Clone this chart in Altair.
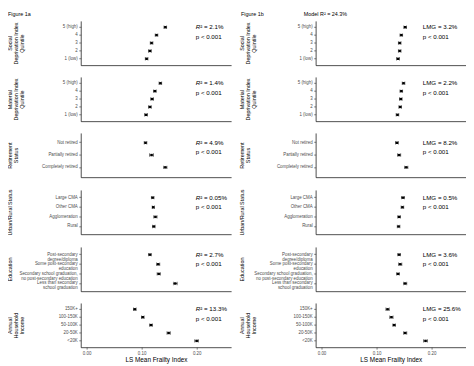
import altair as alt
import pandas as pd

FONT = "Liberation Sans"

# ---------------- data ----------------
panel_titles = [
    ["Social", "Deprivation Index", "Quintile"],
    ["Material", "Deprivation Index", "Quintile"],
    ["Retirement", "Status"],
    ["Urban/Rural Status"],
    ["Education"],
    ["Annual", "Household", "Income"],
]

quintile_cats = ["5 (high)", "4", "3", "2", "1 (low)"]
retire_cats = ["Not retired", "Partially retired", "Completely retired"]
urban_cats = ["Large CMA", "Other CMA", "Agglomeration", "Rural"]
edu_cats = [
    "Post-secondary|degree/diploma",
    "Some post-secondary|education",
    "Secondary school graduation,|no post-secondary education",
    "Less than secondary|school graduation",
]
income_cats = ["150K+", "100-150K", "50-100K", "20-50K", "<20K"]

# Figure 1a: LS mean frailty index (unadjusted)
a_social = [0.143, 0.127, 0.118, 0.115, 0.109]
a_material = [0.134, 0.124, 0.119, 0.115, 0.108]
a_retire = [0.107, 0.118, 0.143]
a_urban = [0.120, 0.121, 0.125, 0.122]
a_edu = [0.115, 0.130, 0.131, 0.161]
a_income = [0.0875, 0.102, 0.117, 0.149, 0.200]

a_social_err = [0.0025, 0.0025, 0.0025, 0.0025, 0.0025]
a_material_err = [0.0025, 0.0025, 0.0025, 0.0025, 0.0025]
a_retire_err = [0.0025, 0.0035, 0.003]
a_urban_err = [0.0025, 0.002, 0.003, 0.0025]
a_edu_err = [0.0025, 0.003, 0.003, 0.0035]
a_income_err = [0.0025, 0.0025, 0.0025, 0.003, 0.0035]

# Figure 1b: LS mean frailty index (full model)
b_social = [0.152, 0.145, 0.142, 0.142, 0.139]
b_material = [0.149, 0.145, 0.144, 0.143, 0.138]
b_retire = [0.137, 0.141, 0.154]
b_urban = [0.148, 0.147, 0.141, 0.140]
b_edu = [0.141, 0.143, 0.139, 0.152]
b_income = [0.120, 0.127, 0.132, 0.152, 0.189]

b_social_err = [0.0025, 0.0025, 0.0025, 0.0025, 0.0025]
b_material_err = [0.0025, 0.0025, 0.0025, 0.0025, 0.0025]
b_retire_err = [0.0025, 0.003, 0.003]
b_urban_err = [0.003, 0.0025, 0.0025, 0.0025]
b_edu_err = [0.0025, 0.003, 0.0025, 0.003]
b_income_err = [0.003, 0.003, 0.0025, 0.003, 0.0035]

a_r2 = ["2.1%", "1.4%", "4.9%", "0.05%", "2.7%", "13.3%"]
b_lmg = ["3.2%", "2.2%", "8.2%", "0.5%", "3.6%", "25.6%"]
p_text = "p < 0.001"
model_r2 = "24.3%"

x_ticks = [0.00, 0.05, 0.10, 0.15, 0.20, 0.25]
x_domain = [-0.0107, 0.2625]

# ---------------- layout ----------------
PW, PH = 153, 45
ANN_SIZE = 6.3
TITLE_X_A = -74
TITLE_X_B = -77
ink = "#000000"
lab = "#4D4D4D"


def panel(cats, vals, errs, title, title_x, ann_kind, ann_val, bottom, tops):
    df = pd.DataFrame({
        "cat": cats,
        "v": vals,
        "lo": [v - e for v, e in zip(vals, errs)],
        "hi": [v + e for v, e in zip(vals, errs)],
    })
    yax = alt.Axis(
        title=title, titleX=title_x, titleY=PH / 2, titleAngle=270,
        titleBaseline="top", titleAlign="center", titleFontSize=5.5,
        titleLineHeight=6, titleFontWeight="normal", titleColor=ink,
        labelFontSize=4.5, labelColor=lab, labelPadding=1.5, labelLineHeight=5,
        labelExpr="split(datum.label, '|')", tickSize=2, tickColor="#333333",
        tickWidth=0.6, domainColor=ink, domainWidth=0.7, grid=False,
    )
    if bottom:
        xax = alt.Axis(
            values=x_ticks, format=".2f", labelFontSize=4.5, labelColor=lab,
            labelPadding=1.5, tickSize=2, tickColor="#333333", tickWidth=0.6,
            domainColor=ink, domainWidth=0.7, grid=False, labelFlush=False,
            title="LS Mean Frailty Index", titleFontSize=6.5, titlePadding=2,
            titleFontWeight="normal", titleColor=ink,
        )
    else:
        xax = alt.Axis(labels=False, ticks=False, title=None, grid=False,
                       domainColor=ink, domainWidth=0.7)
    xs = alt.Scale(domain=x_domain, nice=False, zero=False)
    y = alt.Y("cat:N", scale=alt.Scale(domain=cats, padding=0.6), axis=yax, sort=cats)
    base = alt.Chart(df)
    rule = base.mark_rule(color=ink, strokeWidth=0.7).encode(
        x=alt.X("lo:Q", scale=xs, axis=xax), x2="hi:Q", y=y)
    cap_lo = base.mark_tick(color=ink, orient="vertical", size=3.5, thickness=0.7).encode(
        x=alt.X("lo:Q", scale=xs), y=y)
    cap_hi = base.mark_tick(color=ink, orient="vertical", size=3.5, thickness=0.7).encode(
        x=alt.X("hi:Q", scale=xs), y=y)
    pts = base.mark_point(shape="square", filled=True, size=6, color=ink, opacity=1).encode(
        x=alt.X("v:Q", scale=xs), y=y)

    ann_df = pd.DataFrame({"cat": [cats[0]]})
    ann = alt.Chart(ann_df)
    layers = [rule, cap_lo, cap_hi, pts]
    if ann_kind == "R2":
        ax = 117
        layers.append(ann.mark_text(align="left", baseline="middle", font=FONT,
                                    fontSize=ANN_SIZE, fontStyle="italic", color=ink)
                      .encode(y=y, x=alt.value(ax), text=alt.value("R")))
        layers.append(ann.mark_text(align="left", baseline="middle", font=FONT,
                                    fontSize=ANN_SIZE, color=ink)
                      .encode(y=y, x=alt.value(ax + 4.6), text=alt.value("\u00b2 = " + ann_val)))
    else:
        ax = 109
        layers.append(ann.mark_text(align="left", baseline="middle", font=FONT,
                                    fontSize=ANN_SIZE, color=ink)
                      .encode(y=y, x=alt.value(ax), text=alt.value("LMG = " + ann_val)))
    layers.append(ann.mark_text(align="left", baseline="middle", font=FONT,
                                fontSize=ANN_SIZE, color=ink, dy=9.5)
                  .encode(y=y, x=alt.value(ax), text=alt.value(p_text)))
    for txt, tx in tops:
        layers.append(alt.Chart(pd.DataFrame({"t": [txt]})).mark_text(
            align="left", baseline="top", font=FONT, fontSize=5.5, color=ink)
            .encode(x=alt.value(tx), y=alt.value(-9.5), text="t:N"))
    return alt.layer(*layers).properties(width=PW, height=PH)


cats_list = [quintile_cats, quintile_cats, retire_cats, urban_cats, edu_cats, income_cats]
a_vals = [a_social, a_material, a_retire, a_urban, a_edu, a_income]
a_errs = [a_social_err, a_material_err, a_retire_err, a_urban_err, a_edu_err, a_income_err]
b_vals = [b_social, b_material, b_retire, b_urban, b_edu, b_income]
b_errs = [b_social_err, b_material_err, b_retire_err, b_urban_err, b_edu_err, b_income_err]

left_panels = []
right_panels = []
for i in range(6):
    tops_a = [("Figure 1a", TITLE_X_A)] if i == 0 else []
    tops_b = [("Figure 1b", -76), ("Model R\u00b2 = " + model_r2, -12)] if i == 0 else []
    left_panels.append(panel(cats_list[i], a_vals[i], a_errs[i], panel_titles[i],
                             TITLE_X_A, "R2", a_r2[i], i == 5, tops_a))
    right_panels.append(panel(cats_list[i], b_vals[i], b_errs[i], panel_titles[i],
                              TITLE_X_B, "LMG", b_lmg[i], i == 5, tops_b))

left = alt.vconcat(*left_panels, spacing=12)
right = alt.vconcat(*right_panels, spacing=12)

chart = (
    alt.hconcat(left, right, spacing=9)
    .properties(padding=0)
    .configure_view(stroke=None)
    .configure_axis(labelFont=FONT, titleFont=FONT)
    .configure_text(font=FONT)
)

chart.save("out.html", embed_options={"renderer": "svg", "actions": False})
